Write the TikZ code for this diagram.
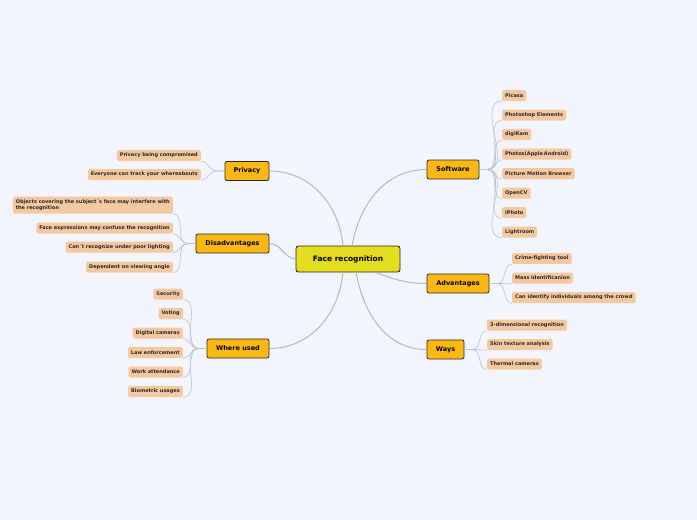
\documentclass[tikz,border=0pt]{standalone}
\usepackage{fontspec}
\setmainfont{DejaVu Sans}
\definecolor{bg}{HTML}{F2F5FE}
\definecolor{leaf}{HTML}{F5C9A0}
\definecolor{par}{HTML}{FDB913}
\definecolor{ctr}{HTML}{E4DC1E}
\definecolor{ln}{HTML}{B4B6BC}
\begin{document}
\begin{tikzpicture}[x=1pt,y=-1pt,
 leafbox/.style={fill=leaf,rounded corners=1.5pt,font=\fontsize{5}{6}\selectfont\bfseries,inner xsep=3pt,inner ysep=0pt,minimum height=11pt,text=black!85},
 parbox/.style={fill=par,draw=black!85,line width=0.8pt,rounded corners=2pt,font=\fontsize{6.5}{8}\selectfont\bfseries,minimum height=19pt,inner xsep=4pt},
 ctrbox/.style={fill=ctr,draw=black!85,line width=0.9pt,rounded corners=2.5pt,font=\fontsize{7.5}{9}\selectfont\bfseries,minimum height=26pt,minimum width=104pt},
 mainln/.style={draw=ln,line width=1pt},
 leafln/.style={draw=ln!80,line width=0.7pt}]
\clip (0,0) rectangle (697,520);
\fill[bg] (0,0) rectangle (697,520);
\node[ctrbox] (c) at (348,259) {Face recognition};
\node[parbox,minimum width=44pt] (pr) at (247,171) {Privacy};
\node[parbox,minimum width=73pt] (di) at (232.5,243.5) {Disadvantages};
\node[parbox,minimum width=62pt] (wu) at (238,348.5) {Where used};
\node[parbox,minimum width=52pt] (sw) at (453,169.5) {Software};
\node[parbox,minimum width=62pt] (ad) at (458,283.5) {Advantages};
\node[parbox,minimum width=37pt] (wa) at (445.5,349.5) {Ways};
\coordinate (c1) at (343,246);
\coordinate (c2) at (352,246);
\coordinate (c3) at (343,272);
\coordinate (c4) at (356,272);
\draw[mainln] (c1) to[out=95,in=0] (pr.east);
\draw[mainln] (c.west) to[out=175,in=0] (di.east);
\draw[mainln] (c3) to[out=-95,in=0] (wu.east);
\draw[mainln] (c2) to[out=80,in=180] (sw.west);
\draw[mainln] (c.south east) ++(-25,0) to[out=-20,in=180] (ad.west);
\draw[mainln] (c4) to[out=-80,in=180] (wa.west);
% left leaves
\foreach \n/\y/\t in {pr1/155.5/Privacy being compromised, pr2/174.5/Everyone can track your whereabouts}
 {\node[leafbox,anchor=east] (\n) at (201,\y) {\t};
  \draw[leafln] (pr.west) -- ++(-8,0) to[out=180,in=0] (\n.south east);}
\node[leafbox,anchor=east,align=left,minimum height=17pt] (di1) at (173,205) {Objects covering the subject´s face may interfere with\\the recognition};
\draw[leafln] (di.west) -- ++(-8,0) to[out=180,in=0] (di1.south east);
\foreach \n/\y/\t in {di2/228/Face expressions may confuse the recognition, di3/247/Can´t recognize under poor lighting, di4/267/Dependent on viewing angle}
 {\node[leafbox,anchor=east] (\n) at (173,\y) {\t};
  \draw[leafln] (di.west) -- ++(-8,0) to[out=180,in=0] (\n.south east);}
\foreach \n/\y/\t in {w1/294/Security, w2/313.5/Voting, w3/333/Digital cameras, w4/352.5/Law enforcement, w5/372/Work attendance, w6/391.5/Biometric usages}
 {\node[leafbox,anchor=east] (\n) at (183,\y) {\t};
  \draw[leafln] (wu.west) -- ++(-8,0) to[out=180,in=0] (\n.south east);}
% right leaves
\foreach \n/\y/\t in {s1/95.5/Picasa, s2/115/Photoshop Elements, s3/134.5/digiKam, s4/154/Photos(Apple\,Android), s5/173.5/Picture Motion Browser, s6/193/OpenCV, s7/212.5/iPhoto, s8/232/Lightroom}
 {\node[leafbox,anchor=west] (\n) at (502,\y) {\t};
  \draw[leafln] (sw.east) -- ++(8,0) to[out=0,in=180] (\n.south west);}
\foreach \n/\y/\t in {a1/258.5/Crime-fighting tool, a2/278/Mass identificanion, a3/297.5/Can identify individuals among the crowd}
 {\node[leafbox,anchor=west] (\n) at (512,\y) {\t};
  \draw[leafln] (ad.east) -- ++(8,0) to[out=0,in=180] (\n.south west);}
\foreach \n/\y/\t in {y1/325/3-dimensional recognition, y2/344.5/Skin texture analysis, y3/364/Thermal cameras}
 {\node[leafbox,anchor=west] (\n) at (487,\y) {\t};
  \draw[leafln] (wa.east) -- ++(8,0) to[out=0,in=180] (\n.south west);}
\end{tikzpicture}
\end{document}
